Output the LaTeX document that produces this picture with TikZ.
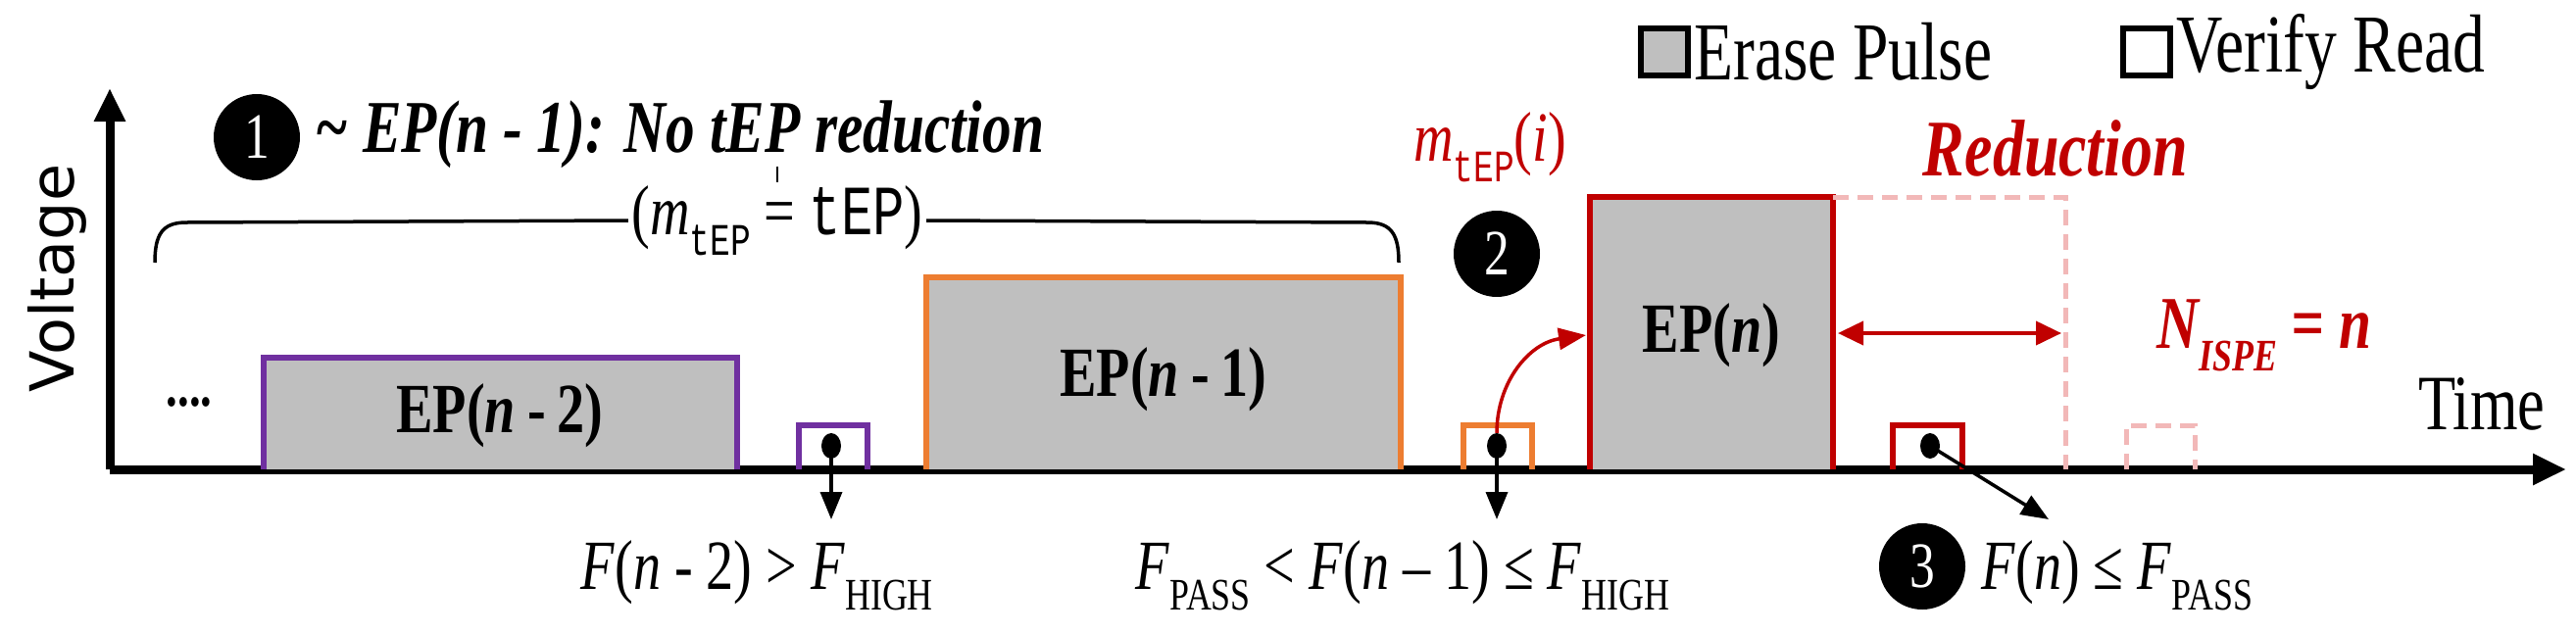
\documentclass[tikz,border=0pt]{standalone}
\usepackage{fontspec}
\setmainfont{Liberation Serif}[FakeStretch=0.78]
\newfontfamily\vfont{DejaVu Sans}
\newfontfamily\mfont{Liberation Mono}[FakeStretch=0.75]
\newcommand{\mysub}[1]{\raisebox{-0.3em}{\fontsize{46}{46}\selectfont #1}}
\usetikzlibrary{arrows.meta,shapes.geometric}
\definecolor{purp}{HTML}{7030A0}
\definecolor{oran}{HTML}{ED7D31}
\definecolor{dred}{HTML}{C00000}
\definecolor{pink}{HTML}{F2B8B8}
\definecolor{gfill}{HTML}{BFBFBF}
\begin{document}
\begin{tikzpicture}[x=1pt,y=-1pt,
  ep/.style={fill=gfill,line width=6pt},
  vr/.style={line width=6pt},
  dot/.style={ellipse,fill=black,inner sep=0pt,minimum width=20pt,minimum height=26pt},
  num/.style={circle,fill=black,text=white,inner sep=0pt,minimum size=88pt,font=\fontsize{66}{70}\selectfont},
  lbl/.style={font=\fontsize{72}{76}\selectfont},
  blb/.style={font=\fontsize{72}{76}\selectfont\bfseries},
  arr/.style={-{Triangle[length=28pt,width=22pt]},line width=3.5pt}]
\useasboundingbox (0,0) rectangle (2628,646);
% axes
\coordinate (O) at (112,479);
\coordinate (Ytop) at (112,90);
\coordinate (Xend) at (2618,479);
\draw[line width=9pt,-{Triangle[length=34pt,width=30pt]}] (O) -- (Ytop);
\draw[line width=9pt,-{Triangle[length=34pt,width=30pt]}] (O) -- (Xend);
\node[rotate=90,font=\vfont\fontsize{62}{66}\selectfont] (volt) at (58,284) {Voltage};
\node[font=\fontsize{80}{84}\selectfont,anchor=east] (time) at (2600,412) {Time};
\node[font=\bfseries\fontsize{60}{60}\selectfont] (dots) at (193,410) {....};
% legend
\node[draw,line width=6pt,fill=gfill,minimum width=48pt,minimum height=48pt,inner sep=0pt] (lg1) at (1698,53) {};
\node[font=\fontsize{84}{88}\selectfont,anchor=west] (lt1) at (1725,53) {Erase Pulse};
\node[draw,line width=6pt,minimum width=48pt,minimum height=48pt,inner sep=0pt] (lg2) at (2190,53) {};
\node[font=\fontsize{84}{88}\selectfont,anchor=west] (lt2) at (2217,53) {Verify Read};
% erase pulses
\draw[ep,draw=purp] (269,479) |- (752,365) -- (752,479);
\node[blb] (ep2) at (510,424) {EP(\textit{n}\,-\,2)};
\draw[ep,draw=oran] (945,479) |- (1429,283) -- (1429,479);
\node[blb] (ep1) at (1187,387) {EP(\textit{n}\,-\,1)};
\draw[ep,draw=dred] (1622,479) |- (1870,201) -- (1870,479);
\node[blb] (epn) at (1746,342) {EP(\textit{n})};
\draw[pink,line width=5pt,dash pattern=on 16pt off 9pt] (1870,201) -| (2107,479);
% verify reads
\draw[vr,draw=purp] (815,479) |- (885,434) -- (885,479);
\draw[vr,draw=oran] (1493,479) |- (1563,434) -- (1563,479);
\draw[vr,draw=dred] (1931,479) |- (2002,434) -- (2002,479);
\draw[pink,line width=5pt,dash pattern=on 16pt off 9pt] (2169,479) |- (2239,434) -- (2239,479);
\node[dot] (d1) at (848,455) {};
\node[dot] (d2) at (1527,455) {};
\node[dot] (d3) at (1969,455) {};
\coordinate (a1) at (848,530);
\coordinate (a2) at (1527,530);
\coordinate (a3) at (2090,530);
\coordinate (epl) at (1618,342);
\draw[arr] (d1.center) -- (a1);
\draw[arr] (d2.center) -- (a2);
\draw[arr] (d3.center) -- (a3);
\draw[arr,draw=dred] (d2.north) .. controls (1527,390) and (1560,350) .. (epl);
\draw[dred,line width=4pt,{Triangle[length=26pt,width=24pt]}-{Triangle[length=26pt,width=24pt]}] (1875,340) -- (2103,340);
% title
\node[num] (c1) at (262,140) {1};
\node[font=\bfseries\itshape\fontsize{76}{80}\selectfont,anchor=west] (title) at (318,137) {\textasciitilde\ EP(n - 1): No tEP reduction};
\node[lbl] (mt) at (793,225) {(\textit{m}\mysub{\mfont tEP} = {\mfont tEP})};
\draw[line width=3.5pt] (158,268) .. controls (158,240) and (165,227) .. (190,227) -- (mt.west);
\draw[line width=3.5pt] (mt.east) -- (1395,227) .. controls (1420,227) and (1427,240) .. (1427,268);
\draw[line width=2pt] (793,170) -- (793,186);
\node[num] (c2) at (1527,259) {2};
\node[lbl,text=dred] (mi) at (1520,150) {\textit{m}\mysub{\mfont tEP}(\textit{i})};
\node[text=dred,font=\bfseries\itshape\fontsize{82}{86}\selectfont] (red) at (2097,152) {Reduction};
\node[text=dred,font=\bfseries\itshape\fontsize{76}{80}\selectfont] (nispe) at (2310,342) {N\mysub{ISPE} = n};
% bottom
\node[lbl,anchor=base west] (f1) at (589,601) {\textit{F}(\textit{n} - 2) > \textit{F}\mysub{HIGH}};
\node[lbl,anchor=base west] (f2) at (1155,601) {\textit{F}\mysub{PASS} < \textit{F}(\textit{n} – 1) ≤ \textit{F}\mysub{HIGH}};
\node[num] (c3) at (1961,578) {3};
\node[lbl,anchor=base west] (f3) at (2018,601) {\textit{F}(\textit{n}) ≤ \textit{F}\mysub{PASS}};
\end{tikzpicture}
\end{document}
